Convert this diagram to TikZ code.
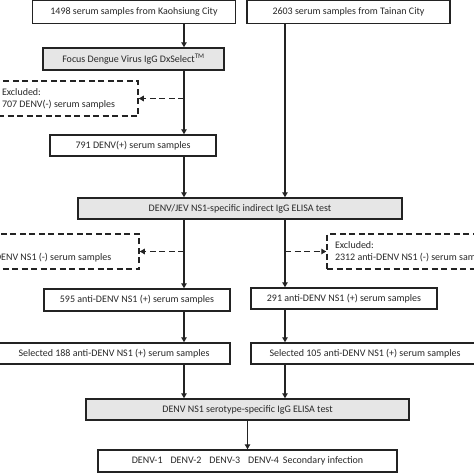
\documentclass[tikz,border=0pt]{standalone}
\usepackage{fontspec}
\setmainfont{Carlito}
\definecolor{BoxGray}{RGB}{230, 230, 230}
\definecolor{EdgeGray}{RGB}{35, 35, 35}
\definecolor{TextGray}{RGB}{40, 40, 40}
\usetikzlibrary{arrows.meta, positioning, calc}

\tikzset{
  stagebox/.style={draw=EdgeGray, line width=1.5pt, fill=white, text=TextGray, inner sep=0pt, font=\fontsize{10}{11}\selectfont},
  testbox/.style={stagebox, fill=BoxGray},
  exclbox/.style={draw=EdgeGray, line width=1.5pt, dash pattern=on 6pt off 3.5pt, text=TextGray, inner sep=0pt, font=\fontsize{10}{12}\selectfont},
  flow/.style={line width=1.1pt, EdgeGray, -{Triangle[width=5.5pt,length=5pt]}},
  flowdash/.style={flow, dash pattern=on 6pt off 3.5pt}
}

\begin{document}
\begin{tikzpicture}[x=1pt, y=-1pt]
        \useasboundingbox (0,0) rectangle (474,474);
        \clip (0,0) rectangle (474,474);

        % Columns of the two cities
        \coordinate (colL) at (184,0);
        \coordinate (colR) at (285,0);

        % Sample sources
        \node[stagebox, minimum width=203pt, minimum height=23pt] (kao) at (134,12) {1498 serum samples from Kaohsiung City};
        \node[stagebox, minimum width=203pt, minimum height=23pt] (tai) at (348.5,12) {2603 serum samples from Tainan City};

        % First screening (Kaohsiung only)
        \node[testbox, minimum width=181pt, minimum height=22pt] (focus) at (133.5,59) {Focus Dengue Virus IgG DxSelect\textsuperscript{TM}};
        \node[exclbox, minimum width=140pt, minimum height=35pt] (exclA) at (68,98.5) {\parbox{132pt}{Excluded:\\707 DENV(-) serum samples}};
        \node[stagebox, minimum width=166pt, minimum height=21pt] (pos) at (133,145.5) {791 DENV(+) serum samples};

        % NS1 indirect ELISA
        \node[testbox, minimum width=324pt, minimum height=21pt] (ns1) at (240,208.5) {DENV/JEV NS1-specific indirect IgG ELISA test};
        \node[exclbox, minimum width=184pt, minimum height=35pt] (exclB) at (47,251.5) {\parbox{176pt}{Excluded:\\196 anti-DENV NS1 (-) serum samples}};
        \node[exclbox, minimum width=196pt, minimum height=35pt] (exclC) at (425,251.5) {\parbox{180pt}{Excluded:\\2312 anti-DENV NS1 (-) serum samples}};
        \node[stagebox, minimum width=186pt, minimum height=22pt] (posL) at (137,300) {595 anti-DENV NS1 (+) serum samples};
        \node[stagebox, minimum width=186pt, minimum height=21pt] (posR) at (344,298.5) {291 anti-DENV NS1 (+) serum samples};

        % Selected samples
        \node[stagebox, minimum width=232pt, minimum height=21pt] (selL) at (114,353.5) {Selected 188 anti-DENV NS1 (+) serum samples};
        \node[stagebox, minimum width=228pt, minimum height=21pt] (selR) at (365,353.5) {Selected 105 anti-DENV NS1 (+) serum samples};

        % Serotype test and outcome
        \node[testbox, minimum width=323pt, minimum height=21pt] (sero) at (247.5,409.5) {DENV NS1 serotype-specific IgG ELISA test};
        \node[stagebox, minimum width=299pt, minimum height=22pt] (outc) at (247.5,461) {DENV-1\hspace{8pt}DENV-2\hspace{8pt}DENV-3\hspace{8pt}DENV-4\hspace{4pt}Secondary infection};

        % Left column
        \draw[flow] (kao.south -| colL) -- (focus.north -| colL);
        \draw[flow] (focus.south -| colL) -- (pos.north -| colL);
        \coordinate (splitA) at (colL |- exclA.east);
        \draw[flowdash] (splitA) -- (exclA.east);
        \draw[flow] (pos.south -| colL) -- (ns1.north -| colL);
        \draw[flow] (ns1.south -| colL) -- (posL.north -| colL);
        \coordinate (splitB) at (colL |- exclB.east);
        \draw[flowdash] (splitB) -- (exclB.east);
        \draw[flow] (posL.south -| colL) -- (selL.north -| colL);
        \draw[flow] (selL.south -| colL) -- (sero.north -| colL);

        % Right column
        \draw[flow] (tai.south -| colR) -- (ns1.north -| colR);
        \draw[flow] (ns1.south -| colR) -- (posR.north -| colR);
        \coordinate (splitC) at (colR |- exclC.west);
        \draw[flowdash] (splitC) -- (exclC.west);
        \draw[flow] (posR.south -| colR) -- (selR.north -| colR);
        \draw[flow] (selR.south -| colR) -- (sero.north -| colR);

        % Outcome
        \draw[flow] (sero) -- (outc);
    \end{tikzpicture}
\end{document}
